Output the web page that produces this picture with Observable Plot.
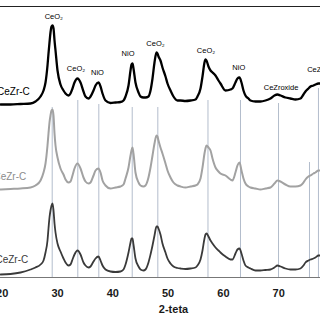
<!DOCTYPE html>
<html>
<head>
<meta charset="utf-8">
<script src="https://cdn.jsdelivr.net/npm/d3@7"></script>
<script src="https://cdn.jsdelivr.net/npm/@observablehq/plot@0.6"></script>
<style>
  html, body { margin: 0; padding: 0; background: #fff; overflow: hidden; }
  #chart svg { display: block; }
</style>
</head>
<body>
<div id="chart"></div>
<script>
// Diffraction angle (2θ, degrees) shared by all three patterns
const twoTheta = [
  19.69, 21.50, 23.31, 25.12, 26.02, 26.93, 27.47, 27.83, 28.19, 28.37,
  28.55, 28.73, 28.92, 29.10, 29.28, 29.46, 29.64, 30.00, 30.54, 31.08,
  31.45, 31.99, 32.35, 32.71, 33.07, 33.62, 34.16, 34.70, 35.06, 35.61,
  35.97, 36.51, 36.87, 37.41, 37.78, 38.14, 38.68, 39.58, 40.49, 41.39,
  41.94, 42.30, 42.84, 43.20, 43.38, 43.56, 43.74, 44.10, 44.65, 45.01,
  45.55, 45.91, 46.45, 46.82, 47.18, 47.54, 47.90, 48.08, 48.26, 48.62,
  48.98, 49.53, 49.89, 50.43, 50.97, 51.70, 52.24, 53.15, 54.05, 54.95,
  55.31, 55.86, 56.22, 56.58, 56.76, 56.94, 57.30, 57.67, 58.03, 58.57,
  59.11, 59.47, 60.38, 61.28, 61.64, 62.18, 62.54, 62.91, 63.27, 63.63,
  63.99, 64.53, 64.89, 65.80, 66.70, 67.61, 68.51, 69.23, 69.78, 70.32,
  71.22, 72.13, 73.03, 73.94, 74.48, 74.84, 75.38, 75.75, 76.29, 76.65,
  77.19, 77.56
];

// Stacked intensities (a.u., offset per sample)
const upperPattern = [
  173, 173, 173.5, 174, 176, 181, 187, 195, 212, 224,
  235, 245, 251, 252, 249, 237, 227, 207, 193, 187,
  184, 182, 184, 189, 195, 199, 195, 186, 181, 179,
  181, 187, 192, 195, 191, 184, 177, 174.5, 175, 175.5,
  177, 181, 192, 207, 213, 214, 209, 195, 185, 181,
  180, 180, 181, 187, 199, 215, 225, 224, 221, 217,
  210, 201, 194, 187, 181, 177, 177, 176.5, 177, 178,
  181, 189, 201, 215, 218, 217, 211, 207, 205, 202,
  197, 194, 187, 188, 189, 195, 199, 200, 195, 187,
  182, 179, 177, 176, 176, 177, 179, 182, 183, 182,
  180, 179, 178, 179, 183, 186, 189, 191, 192, 193,
  194, 194
];
const middlePattern = [
  88, 88.5, 89, 90, 92, 97, 105, 114, 132, 144,
  155, 162, 167, 168, 162, 144, 132, 120, 109, 103,
  98, 95, 96, 102, 109, 114, 109, 100, 96, 94,
  95, 102, 107, 109, 105, 97, 92, 89, 90, 91,
  93, 99, 110, 122, 127, 130, 124, 105, 95, 92,
  91, 92, 100, 110, 122, 134, 142, 141, 137, 130,
  124, 114, 107, 100, 95, 92, 91, 90, 91, 92,
  93, 99, 110, 124, 129, 132, 130, 127, 119, 110,
  106, 104, 102, 98, 97, 105, 112, 115, 107, 99,
  94, 91, 90, 89, 88, 89, 90, 94, 97, 96,
  93, 91, 91, 92, 95, 98, 101, 102, 104, 105,
  107, 107
];
const lowerPattern = [
  3, 3.5, 5, 8, 10, 13, 17, 25, 37, 49,
  60, 67, 72, 74, 67, 54, 45, 34, 26, 19,
  15, 12, 13, 18, 23, 27, 23, 15, 12, 10,
  11, 16, 19, 21, 17, 12, 8, 6, 5.5, 6,
  8, 13, 25, 35, 39, 39, 33, 19, 11, 8,
  7, 8, 15, 23, 32, 42, 51, 51, 49, 43,
  34, 25, 19, 14, 11, 9.5, 9, 8.5, 9, 10,
  12, 18, 27, 39, 43, 44, 41, 37, 34, 30,
  27, 25, 21, 18, 18, 24, 28, 29, 24, 17,
  12, 10, 9, 7, 7, 7.5, 8, 10, 12, 11,
  9, 8, 8, 9, 12, 15, 17, 18, 19, 20,
  22, 22
];

const sampleNames = ["CeZr-C", "CeZr-C", "CeZr-C"];

// Reflection markers: angle and the level each drop line reaches
const reflectionAngles = [29.04, 33.67, 37.47, 43.51, 48.14, 57.21, 63.09, 69.97, 75.57, 77.19];
const reflectionTops   = [170, 177, 173, 170, 170, 177, 177, 174, 115, 189];

// Phase labels over the peaks
const phaseNames  = ["CeO₂", "CeO₂", "NiO", "NiO", "CeO₂", "CeO₂", "NiO", "CeZroxide", "CeZroxide"];
const phaseAngles = [29.33, 33.35, 37.23, 42.75, 47.72, 56.85, 62.79, 70.42, 78.28];
const phaseLevels = [261, 209, 205, 224, 234, 227, 210, 190, 208];

const xTicks = [20, 30, 40, 50, 60, 70];

const yMax = 271;
const font = "Liberation Sans, Arial, Helvetica, sans-serif";

// Sample label placement: right end of the text (px from left edge) and level
const labelLayout = [
  {end: 29.3, level: 186, color: "#000"},
  {end: 25.7, level: 101, color: "#8c8c8c"},
  {end: 27.7, level: 18,  color: "#3a3a3a"}
];
const patterns = [
  {values: upperPattern,  stroke: "#000000", width: 2.3},
  {values: middlePattern, stroke: "#a2a2a2", width: 2.0},
  {values: lowerPattern,  stroke: "#3a3a3a", width: 1.8}
];

const refIdx = reflectionAngles.map((_, i) => i);
const phaseIdx = phaseNames.map((_, i) => i);

const chart = Plot.plot({
  width: 320,
  height: 320,
  marginLeft: 0,
  marginRight: 0,
  marginTop: 6,
  marginBottom: 43,
  style: {fontFamily: font, background: "#fff"},
  x: {domain: [19.69, 77.56], axis: null},
  y: {domain: [0, yMax], axis: null},
  marks: [
    // frame top and baseline
    Plot.ruleY([yMax], {stroke: "#222", strokeWidth: 1}),
    Plot.ruleY([0], {stroke: "#777", strokeWidth: 1}),
    // drop lines at reflection positions
    Plot.ruleX(refIdx, {
      x: i => reflectionAngles[i], y1: 0, y2: i => reflectionTops[i],
      stroke: "#b3bdcc", strokeWidth: 1
    }),
    // diffraction patterns
    ...patterns.map(p => Plot.line(p.values, {
      x: twoTheta, y: d => d, stroke: p.stroke, strokeWidth: p.width,
      curve: "monotone-x", strokeLinejoin: "round"
    })),
    // phase labels
    Plot.text(phaseIdx, {
      x: i => phaseAngles[i], y: i => phaseLevels[i], text: i => phaseNames[i],
      fontSize: 7.5, fill: "#000", textAnchor: "middle", lineAnchor: "middle"
    }),
    // sample labels at the left edge
    ...labelLayout.map((d, i) => Plot.text([sampleNames[i]], {
      frameAnchor: "left", y: [d.level], text: t => t, dx: d.end,
      fill: d.color, fontSize: 10, textAnchor: "end", lineAnchor: "middle"
    })),
    // x tick labels and axis title
    Plot.text(xTicks, {
      x: d => d, frameAnchor: "bottom", dy: 16, text: d => String(d),
      fontSize: 11, fontWeight: "bold", fill: "#1a1a1a", lineAnchor: "middle"
    }),
    Plot.text(["2-teta"], {
      frameAnchor: "bottom", dx: 13, dy: 32, text: d => d,
      fontSize: 11, fontWeight: "bold", fill: "#1a1a1a", lineAnchor: "middle"
    })
  ]
});

document.getElementById("chart").append(chart);
</script>
</body>
</html>
